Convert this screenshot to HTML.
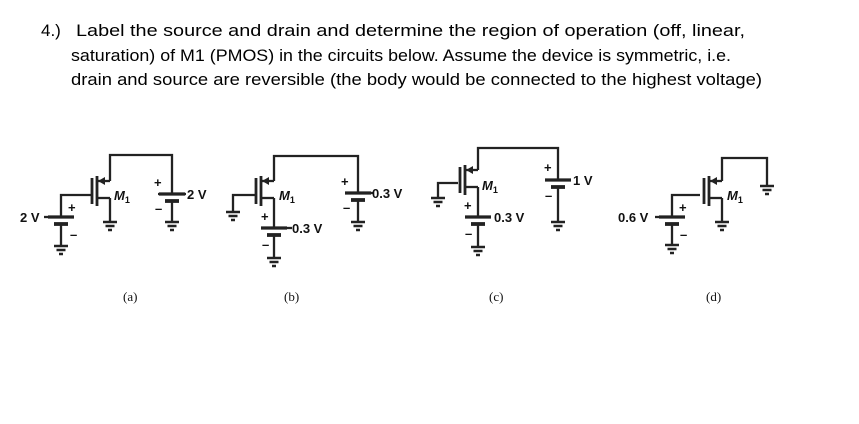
<!DOCTYPE html>
<html><head><style>
html,body{margin:0;padding:0;background:#fff;}
svg{display:block;}
.t{font-family:"Liberation Sans",sans-serif;font-size:17px;fill:#000;}
.l{font-family:"Liberation Sans",sans-serif;font-weight:bold;font-size:13px;fill:#111;}
.c{font-family:"Liberation Serif",serif;font-size:13px;fill:#111;}
</style></head><body>
<svg width="859" height="424" viewBox="0 0 859 424" xmlns="http://www.w3.org/2000/svg">
<text class="t" x="41" y="36">4.)</text>
<text class="t" x="76" y="36" textLength="669" lengthAdjust="spacingAndGlyphs">Label the source and drain and determine the region of operation (off, linear,</text>
<text class="t" x="71" y="61" textLength="660" lengthAdjust="spacingAndGlyphs">saturation) of M1 (PMOS) in the circuits below. Assume the device is symmetric, i.e.</text>
<text class="t" x="71" y="85" textLength="691" lengthAdjust="spacingAndGlyphs">drain and source are reversible (the body would be connected to the highest voltage)</text>

<defs>
<g id="gnd" stroke="#222" stroke-width="2.5">
<line x1="-7" y1="0" x2="7" y2="0"/><line x1="-4.5" y1="4" x2="4.5" y2="4"/><line x1="-2" y1="8" x2="2" y2="8"/>
</g>
<g id="bat" stroke="#222">
<line x1="-13" y1="0" x2="13" y2="0" stroke-width="3.2"/><line x1="-7" y1="7" x2="7" y2="7" stroke-width="3.8"/>
</g>
<g id="mos" stroke="#222" stroke-width="2.3" fill="none">
<line x1="-13" y1="-12" x2="-13" y2="18" stroke-width="2.8"/>
<line x1="-18" y1="-10" x2="-18" y2="16" stroke-width="2.8"/>
<line x1="-13" y1="-7" x2="0" y2="-7"/>
<line x1="-13" y1="10" x2="0" y2="10"/>
<polygon points="-12,-7 -5,-11 -5,-3" fill="#222" stroke="none"/>
</g>
</defs>

<g stroke="#222" stroke-width="2.3" fill="none">
<polyline points="110,181 110,155 172,155 172,194"/>
<line x1="172" y1="201" x2="172" y2="222"/>
<polyline points="92,195 61,195 61,217"/>
<line x1="61" y1="224" x2="61" y2="245"/>
<line x1="110" y1="198" x2="110" y2="222"/>
<line x1="44" y1="217" x2="48" y2="217"/>
<line x1="158" y1="194" x2="186" y2="194"/>
<polyline points="274,181 274,156 358,156 358,193"/>
<line x1="358" y1="200" x2="358" y2="222"/>
<polyline points="256,195 233,195 233,212"/>
<line x1="274" y1="198" x2="274" y2="228"/>
<line x1="274" y1="235" x2="274" y2="258"/>
<line x1="287" y1="228" x2="292" y2="228"/>
<line x1="371" y1="193" x2="373" y2="193"/>
<polyline points="478,170 478,148 558,148 558,180"/>
<line x1="558" y1="187" x2="558" y2="222"/>
<polyline points="458,183 438,183 438,198"/>
<line x1="478" y1="187" x2="478" y2="217"/>
<line x1="478" y1="224" x2="478" y2="247"/>
<polyline points="722,181 722,158 767,158 767,185"/>
<polyline points="700,195 672,195 672,217"/>
<line x1="672" y1="224" x2="672" y2="245"/>
<line x1="722" y1="198" x2="722" y2="222"/>
<line x1="655" y1="217" x2="659" y2="217"/>
</g>

<use href="#mos" x="110" y="188"/>
<use href="#mos" x="274" y="188"/>
<use href="#mos" x="478" y="177"/>
<use href="#mos" x="722" y="188"/>

<use href="#bat" x="61" y="217"/><use href="#bat" x="172" y="194"/>
<use href="#bat" x="274" y="228"/><use href="#bat" x="358" y="193"/>
<use href="#bat" x="478" y="217"/><use href="#bat" x="558" y="180"/>
<use href="#bat" x="672" y="217"/>

<use href="#gnd" x="61" y="246"/><use href="#gnd" x="110" y="222"/><use href="#gnd" x="172" y="222"/>
<use href="#gnd" x="233" y="212"/><use href="#gnd" x="274" y="258"/><use href="#gnd" x="358" y="222"/>
<use href="#gnd" x="438" y="198"/><use href="#gnd" x="478" y="247"/><use href="#gnd" x="558" y="222"/>
<use href="#gnd" x="672" y="245"/><use href="#gnd" x="722" y="222"/><use href="#gnd" x="767" y="186"/>

<text class="l" x="20" y="222">2 V</text>
<text class="l" x="68" y="212">+</text><text class="l" x="70" y="239">–</text>
<text class="l" x="114" y="200" font-style="italic">M<tspan font-size="9" dy="3" font-style="normal">1</tspan></text>
<text class="l" x="154" y="187">+</text><text class="l" x="155" y="213">–</text>
<text class="l" x="187" y="199">2 V</text>

<text class="l" x="279" y="200" font-style="italic">M<tspan font-size="9" dy="3" font-style="normal">1</tspan></text>
<text class="l" x="261" y="221">+</text><text class="l" x="262" y="249">–</text>
<text class="l" x="292" y="233">0.3 V</text>
<text class="l" x="341" y="186">+</text><text class="l" x="343" y="212">–</text>
<text class="l" x="372" y="198">0.3 V</text>

<text class="l" x="482" y="190" font-style="italic">M<tspan font-size="9" dy="3" font-style="normal">1</tspan></text>
<text class="l" x="464" y="210">+</text><text class="l" x="465" y="238">–</text>
<text class="l" x="494" y="222">0.3 V</text>
<text class="l" x="544" y="172">+</text><text class="l" x="545" y="200">–</text>
<text class="l" x="573" y="185">1 V</text>

<text class="l" x="618" y="222">0.6 V</text>
<text class="l" x="679" y="212">+</text><text class="l" x="680" y="239">–</text>
<text class="l" x="727" y="200" font-style="italic">M<tspan font-size="9" dy="3" font-style="normal">1</tspan></text>

<text class="c" x="123" y="301">(a)</text>
<text class="c" x="284" y="301">(b)</text>
<text class="c" x="489" y="301">(c)</text>
<text class="c" x="706" y="301">(d)</text>
</svg>
</body></html>
